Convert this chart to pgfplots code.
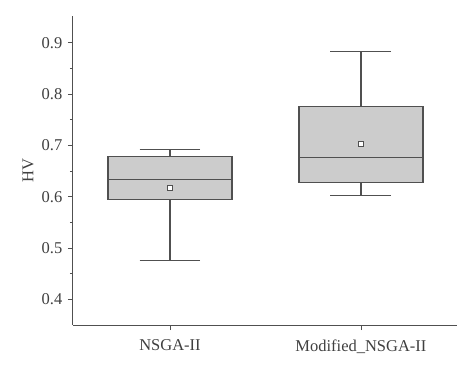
\documentclass[border=0pt]{standalone}
\usepackage{fontspec}
\setmainfont{Liberation Serif}
\usepackage{pgfplots}
\pgfplotsset{compat=1.18}
\usepgfplotslibrary{statistics}
\definecolor{boxfill}{HTML}{CCCCCC}
\definecolor{boxline}{HTML}{505050}
\begin{document}
\fontsize{16.5}{20}\selectfont
\begin{tikzpicture}
\path[use as bounding box] (-73pt,-47pt) rectangle (401pt,325pt);
\begin{axis}[
  at={(0pt,0pt)}, anchor=south west,
  scale only axis, width=384pt, height=309pt,
  axis x line*=bottom, axis y line*=left,
  xmin=0.492, xmax=2.503,
  ymin=0.35, ymax=0.952,
  xtick={1,2}, xticklabels={NSGA-II,Modified\_NSGA-II},
  ytick={0.4,0.5,0.6,0.7,0.8,0.9},
  minor y tick num=1,
  tick align=outside,
  major tick length=5pt, minor tick length=3pt,
  every tick/.style={boxline, line width=0.9pt},
  axis line style={boxline, line width=1pt},
  tick label style={font=\fontsize{16.5}{20}\selectfont, text=black!75},
  label style={font=\fontsize{16.5}{20}\selectfont, text=black!75},
  /pgf/number format/assume math mode=true,
  yticklabel style={/pgf/number format/fixed, /pgf/number format/precision=1, /pgf/number format/fixed zerofill},
  ylabel={HV},
  ylabel style={at={(axis description cs:-0.117,0.5)}, anchor=center},
  xticklabel style={yshift=-4pt},
]
\addplot[draw=boxline, fill=boxfill, line width=1.2pt,
  boxplot prepared={draw direction=y, draw position=1, box extend=0.649, whisker extend=0.319,
    lower whisker=0.475, lower quartile=0.594,
    median=0.633, upper quartile=0.678, upper whisker=0.692}] coordinates {};
\addplot[draw=boxline, fill=boxfill, line width=1.2pt,
  boxplot prepared={draw direction=y, draw position=2, box extend=0.649, whisker extend=0.319,
    lower whisker=0.603, lower quartile=0.627,
    median=0.677, upper quartile=0.775, upper whisker=0.883}] coordinates {};
\addplot[only marks, mark=square*, mark size=2.2pt, mark options={fill=white, draw=boxline, line width=1pt}]
  coordinates {(1,0.617) (2,0.703)};
\end{axis}
\end{tikzpicture}
\end{document}
